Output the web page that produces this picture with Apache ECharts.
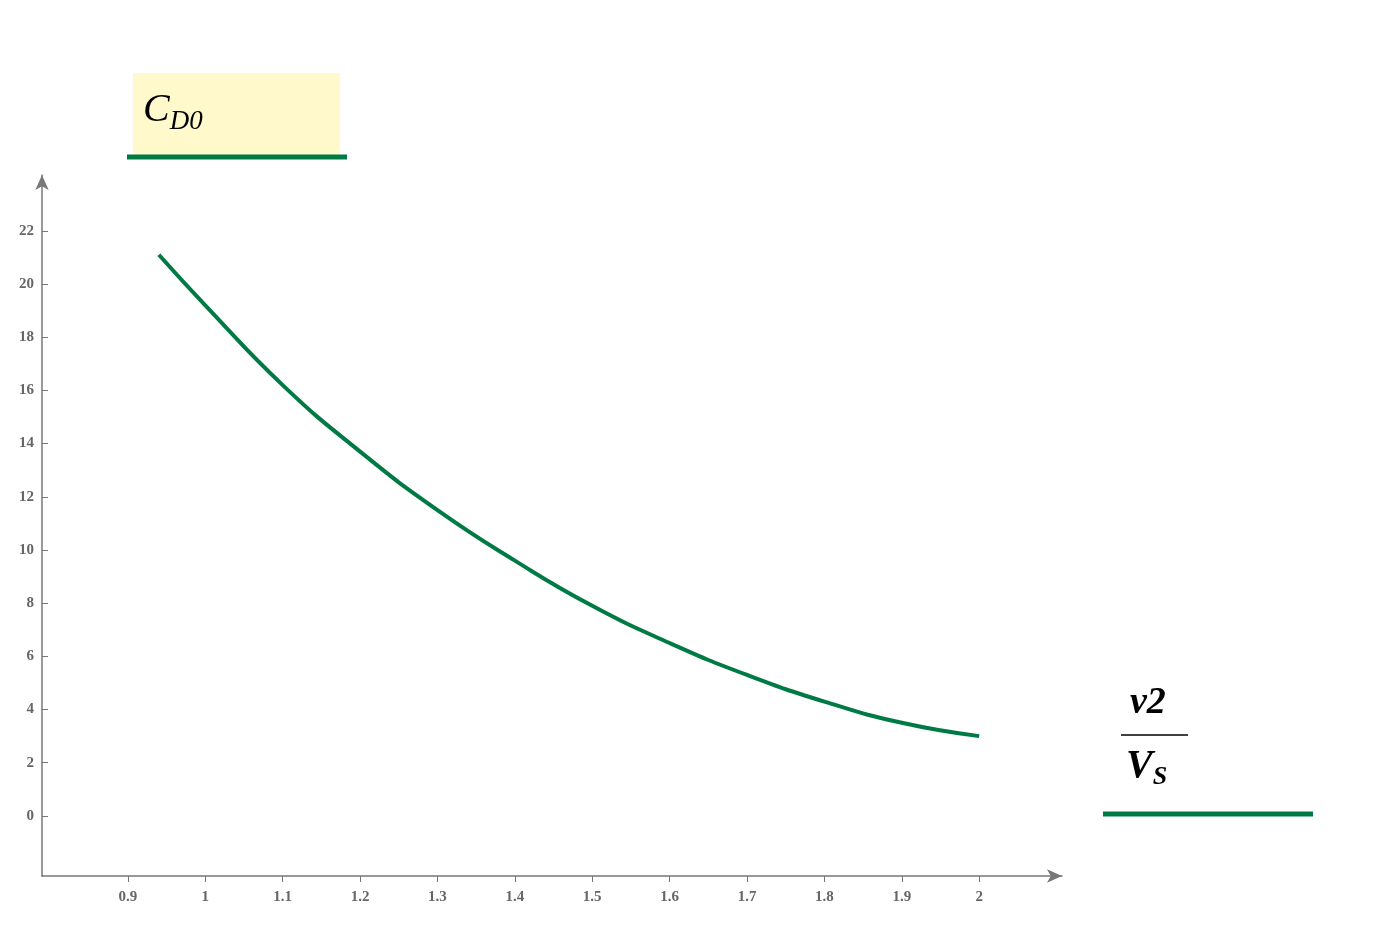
<!DOCTYPE html>
<html><head><meta charset="utf-8">
<script src="https://cdn.jsdelivr.net/npm/echarts@6/dist/echarts.min.js"></script>
<style>html,body{margin:0;padding:0;background:#fff}#c{width:1382px;height:934px}</style>
</head><body><div id="c"></div>
<script>
const xValues = [0.94, 1.0, 1.1, 1.2, 1.3, 1.4, 1.5, 1.6, 1.7, 1.8, 1.9, 2.0];
const yValues = [21.1, 19.2, 16.2, 13.7, 11.5, 9.6, 7.9, 6.5, 5.3, 4.3, 3.5, 3.0];
const xTicks = [0.9, 1, 1.1, 1.2, 1.3, 1.4, 1.5, 1.6, 1.7, 1.8, 1.9, 2];
const yTicks = [0, 2, 4, 6, 8, 10, 12, 14, 16, 18, 20, 22];

const green = '#007a45';
const labelStyle = {fontFamily: 'Liberation Serif', fontWeight: 'bold', fontSize: 15, color: '#666'};
const chart = echarts.init(document.getElementById('c'));
chart.setOption({
  animation: false,
  grid: {left: 42, right: 320, top: 175, bottom: 58},
  xAxis: {
    type: 'value', min: 0.789, max: 2.107,
    axisLine: {show: true, onZero: false, symbol: ['none', 'arrow'], symbolSize: [10, 15], lineStyle: {color: '#777', width: 1.5}},
    splitLine: {show: false},
    axisTick: {show: true, customValues: xTicks, length: 6, lineStyle: {color: '#777'}},
    axisLabel: Object.assign({customValues: xTicks, margin: 14}, labelStyle)
  },
  yAxis: {
    type: 'value', min: -2.26, max: 24.1,
    axisLine: {show: true, onZero: false, symbol: ['none', 'arrow'], symbolSize: [10, 15], lineStyle: {color: '#777', width: 1.5}},
    splitLine: {show: false},
    axisTick: {show: true, customValues: yTicks, length: 6, inside: true, lineStyle: {color: '#777'}},
    axisLabel: Object.assign({customValues: yTicks, margin: 8}, labelStyle)
  },
  series: [{
    type: 'line', smooth: true, showSymbol: false,
    data: xValues.map((x, i) => [x, yValues[i]]),
    lineStyle: {color: green, width: 4}
  }],
  graphic: [
    {type: 'rect', shape: {x: 133, y: 73, width: 207, height: 82}, style: {fill: '#fff9cc'}},
    {type: 'text', x: 143, y: 86, style: {text: '{c|C}{s|D0}', rich: {
      c: {fontFamily: 'Liberation Serif', fontStyle: 'italic', fontSize: 40, fill: '#000'},
      s: {fontFamily: 'Liberation Serif', fontStyle: 'italic', fontSize: 27, fill: '#000', padding: [22, 0, 0, 0]}
    }}},
    {type: 'line', shape: {x1: 127, y1: 157, x2: 347, y2: 157}, style: {stroke: green, lineWidth: 5}},
    {type: 'text', x: 1130, y: 684, style: {text: 'v2', fontFamily: 'Liberation Serif', fontStyle: 'italic', fontWeight: 'bold', fontSize: 38, fill: '#000'}},
    {type: 'line', shape: {x1: 1121, y1: 735, x2: 1188, y2: 735}, style: {stroke: '#000', lineWidth: 1.5}},
    {type: 'text', x: 1126, y: 744, style: {text: '{c|V}{s|S}', rich: {
      c: {fontFamily: 'Liberation Serif', fontStyle: 'italic', fontWeight: 'bold', fontSize: 40, fill: '#000'},
      s: {fontFamily: 'Liberation Serif', fontStyle: 'italic', fontWeight: 'bold', fontSize: 26, fill: '#000', padding: [20, 0, 0, 0]}
    }}},
    {type: 'line', shape: {x1: 1103, y1: 814, x2: 1313, y2: 814}, style: {stroke: green, lineWidth: 5}}
  ]
});
</script></body></html>
